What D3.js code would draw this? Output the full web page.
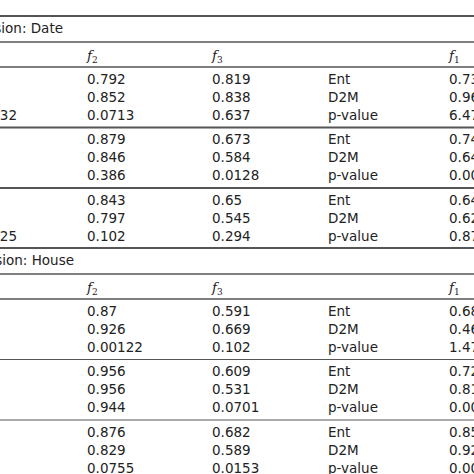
<!DOCTYPE html>
<html><head><meta charset="utf-8">
<script src="https://cdn.jsdelivr.net/npm/d3@7"></script>
<style>
body{margin:0;background:#fff;overflow:hidden}
text{font-family:"DejaVu Sans",sans-serif;font-size:13.5px;fill:#222}
.f{font-family:"DejaVu Serif",serif;font-style:italic}
</style></head><body>
<script>
var measures = ['Ent', 'D2M', 'p-value']

var dateF2 = [['0.792','0.852','0.0713'], ['0.879','0.846','0.386'], ['0.843','0.797','0.102']]
var dateF3 = [['0.819','0.838','0.637'], ['0.673','0.584','0.0128'], ['0.65','0.545','0.294']]
var dateF1 = [['0.735','0.961','6.47e'], ['0.744','0.642','0.001'], ['0.641','0.623','0.873']]
var dateLeft = [['','','0.0832'], ['','',''], ['','','0.25']]

var houseF2 = [['0.87','0.926','0.00122'], ['0.956','0.956','0.944'], ['0.876','0.829','0.0755']]
var houseF3 = [['0.591','0.669','0.102'], ['0.609','0.531','0.0701'], ['0.682','0.589','0.0153']]
var houseF1 = [['0.681','0.461','1.47e'], ['0.722','0.811','0.001'], ['0.851','0.921','0.001']]
var houseLeft = [['','',''], ['','',''], ['','','']]

var svg = d3.select('body').append('svg').attr('width', 474).attr('height', 474)

var x = {left: 17, f2: 87, f3: 212, m: 328, f1: 449}

function drawPanel(y0, title, f2, f3, f1, left, thickSep){
  svg.append('line').attr('x1', 0).attr('x2', 474).attr('y1', y0).attr('y2', y0)
    .attr('stroke', '#555').attr('stroke-width', 2)
  svg.append('text').attr('x', title.indexOf('House') > 0 ? 74 : 63).attr('y', y0 + 17)
    .attr('text-anchor', 'end').text(title)
  svg.append('line').attr('x1', 0).attr('x2', 474).attr('y1', y0 + 26).attr('y2', y0 + 26)
    .attr('stroke', '#555').attr('stroke-width', 1.5)
  var hy = y0 + 44
  ;[['f', '2', x.f2], ['f', '3', x.f3], ['f', '1', x.f1]].forEach(d => {
    var t = svg.append('text').attr('class', 'f').attr('x', d[2]).attr('y', hy)
    t.append('tspan').text(d[0])
    t.append('tspan').attr('dy', 3).style('font-size', '9px').style('font-style', 'normal').text(d[1])
  })
  svg.append('line').attr('x1', 0).attr('x2', 474).attr('y1', y0 + 51).attr('y2', y0 + 51)
    .attr('stroke', '#555').attr('stroke-width', 1.5)

  var gy = y0 + 51
  d3.range(3).forEach(g => {
    var base = gy + g * 60.5
    d3.range(3).forEach(r => {
      var y = base + 16.5 + r * 18
      svg.append('text').attr('x', x.left).attr('y', y).attr('text-anchor', 'end').text(left[g][r])
      svg.append('text').attr('x', x.f2).attr('y', y).text(f2[g][r])
      svg.append('text').attr('x', x.f3).attr('y', y).text(f3[g][r])
      svg.append('text').attr('x', x.m).attr('y', y).text(measures[r])
      svg.append('text').attr('x', x.f1).attr('y', y).text(f1[g][r])
    })
    if (g < 2) svg.append('line').attr('x1', 0).attr('x2', 474)
      .attr('y1', base + 60.5).attr('y2', base + 60.5)
      .attr('stroke', '#555').attr('stroke-width', thickSep ? 1.8 : 1)
  })
}

drawPanel(16, 'Dimension: Date', dateF2, dateF3, dateF1, dateLeft, true)
drawPanel(248, 'Dimension: House', houseF2, houseF3, houseF1, houseLeft, false)
</script>
</body></html>
